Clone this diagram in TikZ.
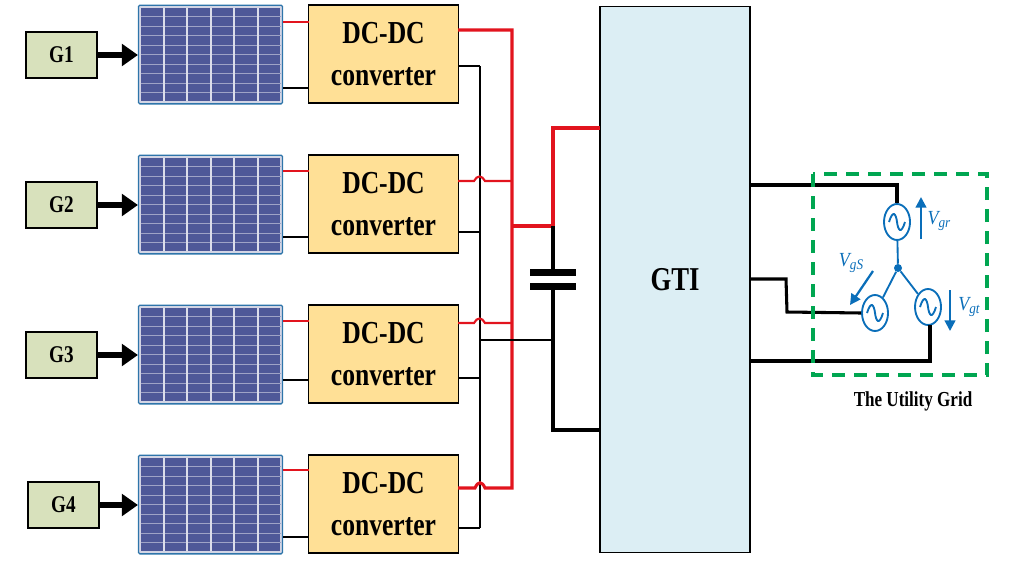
\documentclass[tikz,border=0pt]{standalone}
\usepackage{fontspec}
\setmainfont{Liberation Serif}
\newfontfamily\condfont[FakeStretch=0.8]{Liberation Serif}
\newfontfamily\mathlike[FakeStretch=0.9]{Liberation Serif}
\usetikzlibrary{calc,positioning,arrows.meta,shapes.geometric}
\definecolor{panelblue}{RGB}{78,88,152}
\definecolor{panelrim}{RGB}{46,117,170}
\definecolor{gridgreen}{RGB}{0,166,81}
\definecolor{srcblue}{RGB}{10,110,185}
\definecolor{wirered}{RGB}{226,20,30}
\tikzset{gen box/.style={rectangle,draw=black,line width=1.3pt,fill={rgb,255:red,216;green,225;blue,188},minimum width=53pt,minimum height=34pt,inner sep=0pt,font=\condfont\bfseries\fontsize{18}{20}\selectfont},
conv box/.style={rectangle,draw=black,line width=0.9pt,fill={rgb,255:red,255;green,224;blue,150},minimum width=112pt,minimum height=73.5pt,inner sep=0pt,align=center,font=\condfont\bfseries\fontsize{24}{32}\selectfont},
panel box/.style={rectangle,rounded corners=1pt,draw=panelrim,line width=1pt,fill=white!75!panelblue,minimum width=108pt,minimum height=74pt,inner sep=0pt},
gti box/.style={rectangle,draw=black,line width=0.9pt,fill={rgb,255:red,220;green,238;blue,244},minimum width=112.5pt,minimum height=410pt,inner sep=0pt,font=\condfont\bfseries\fontsize{25}{30}\selectfont},
ac source/.style={ellipse,draw=srcblue,line width=1.4pt,minimum width=19.5pt,minimum height=27pt,inner sep=0pt},
thin red/.style={draw=wirered,line width=1.6pt},
thin black/.style={draw=black,line width=1.6pt},
red wire/.style={draw=wirered,line width=2.3pt},
black wire/.style={draw=black,line width=2.1pt},
bold black/.style={draw=black,line width=2.3pt},
blue wire/.style={draw=srcblue,line width=1.4pt},
volt arrow/.style={draw=srcblue,line width=1.7pt,-{Triangle[length=8pt,width=8pt]}},
volt label/.style={text=srcblue,font=\mathlike\itshape\fontsize{15}{15}\selectfont}}
\begin{document}
\begin{tikzpicture}[x=0.75pt,y=-0.75pt]
	\useasboundingbox (0,0) rectangle (1009,561);

	% solar panels, sources and converters
	\foreach \i/\gx/\gy/\py/\cy in {1/61.5/55/54.5/54,2/61.5/205/204.5/204,3/61.5/355/354.5/354,4/63.5/505/504.5/504}{
		\node (g\i)		[gen box] at (\gx,\gy) {G\i};
		\node (pv\i)	[panel box] at (210.5,\py) {};
		\fill [panelblue] ($(pv\i.center)+(-69.5,-47)$) rectangle ($(pv\i.center)+(69.5,46)$);
		\foreach \n in {-4,...,4}
			\draw [white!45!panelblue,line width=0.75pt] ($(pv\i.center)+(-70,\n*9.5)$) -- ($(pv\i.center)+(70,\n*9.5)$);
		\foreach \dx in {-46.5,-23.5,0.5,23.5,47.5}
			\draw [white!80!panelblue,line width=0.8pt] ($(pv\i.center)+(\dx,-47)$) -- ($(pv\i.center)+(\dx,46)$);
		\node (conv\i)	[conv box] at (383.5,\cy) {DC-DC\\converter};
		\draw [black,line width=4pt,-{Triangle[length=12pt,width=17pt,line width=0pt]}] (g\i.east) -- (g\i.east -| pv\i.west);
	}

	\node (gti)	[gti box] at (675,279.5) {GTI};

	% buses
	\coordinate (redtop)	at (512,30);
	\coordinate (redbot)	at (512,488);
	\coordinate (blktop)	at (480,66);
	\coordinate (blkbot)	at (480,528);
	\coordinate (redjoin)	at (512,226);
	\coordinate (capjoin)	at (553,226);
	\coordinate (redup)		at (553,128);
	\coordinate (plateA)	at (553,272.5);
	\coordinate (plateB)	at (553,286.5);
	\coordinate (blkjoin)	at (480,340);
	\coordinate (capmid)	at (553,340);
	\coordinate (capbot)	at (553,430);

	% panel to converter
	\draw [thin red] (283,22) -- (309,22) (283,171) -- (309,171) (283,321) -- (309,321) (283,470) -- (309,470);
	\draw [thin black] (283,88) -- (309,88) (283,237) -- (309,237) (283,380) -- (309,380) (283,537) -- (309,537);

	\draw [black wire] (blktop) -- (blkbot);
	\draw [thin black] (458,66) -- (blktop) (458,232) -- (480,232) (458,378) -- (480,378) (458,528) -- (blkbot);

	% red lines hop over the black bus
	\draw [red wire] (458,30) -- (redtop) -- (redbot) -- (485,488) .. controls (482,481) and (478,481) .. (475,488) -- (458,488);
	\draw [thin red] (458,181) -- (474,181) .. controls (477,175) and (482,175) .. (485,181) -- (512,181);
	\draw [thin red] (458,323) -- (474,323) .. controls (477,317) and (482,317) .. (485,323) -- (512,323);
	\draw [red wire] (redjoin) -- (capjoin) -- (redup) -- (600,128);

	% capacitor
	\draw [bold black] (capjoin) -- (plateA) (plateB) -- (capbot) -- (600,430);
	\draw [black wire] (blkjoin) -- (capmid);
	\draw [black,line width=5.2pt] (530,272.5) -- (576,272.5) (530,286.5) -- (576,286.5);

	% utility grid
	\node (sr)	[ac source] at (897,222) {};
	\node (ss)	[ac source] at (875,313) {};
	\node (st)	[ac source] at (928,307) {};
	\node (nn)	[circle,fill=srcblue,minimum size=6pt,inner sep=0pt] at (898,268) {};
	\foreach \s in {sr,ss,st}
		\draw [blue wire] ($(\s.center)+(-8,0)$) .. controls ($(\s.center)+(-4,-13)$) and ($(\s.center)+(-1,-8)$) .. (\s.center) .. controls ($(\s.center)+(1,8)$) and ($(\s.center)+(4,13)$) .. ($(\s.center)+(8,0)$);
	\draw [blue wire] (sr) -- (nn);
	\draw [blue wire] (nn) -- (ss);
	\draw [blue wire] (nn) -- (st);

	\coordinate (stbot)	at (930,325);
	\draw [bold black] (750,185) -- (897,185) -- (sr.north);
	\draw [bold black] (750,279) -- (786,279) -- (787,312) -- (ss.west);
	\draw [bold black] (750,361) -- (930,361) -- (stbot);

	\draw [volt arrow] (921,239) -- (921,197);
	\draw [volt arrow] (873,271) -- (850,305);
	\draw [volt arrow] (950,290) -- (950,331);
	\node (vr)	[volt label] at (939,221) {V\raisebox{-2.5pt}{\fontsize{11}{11}\selectfont gr}};
	\node (vs)	[volt label] at (851,263) {V\raisebox{-2.5pt}{\fontsize{11}{11}\selectfont gS}};
	\node (vt)	[volt label] at (969,307) {V\raisebox{-2.5pt}{\fontsize{11}{11}\selectfont gt}};

	\draw [gridgreen,line width=2.3pt,dash pattern=on 9.5pt off 7pt] (813,174) rectangle (987,375);
	\node (ug)	[font=\condfont\bfseries\fontsize{16}{16}\selectfont] at (913,401) {The Utility Grid};
\end{tikzpicture}
\end{document}
